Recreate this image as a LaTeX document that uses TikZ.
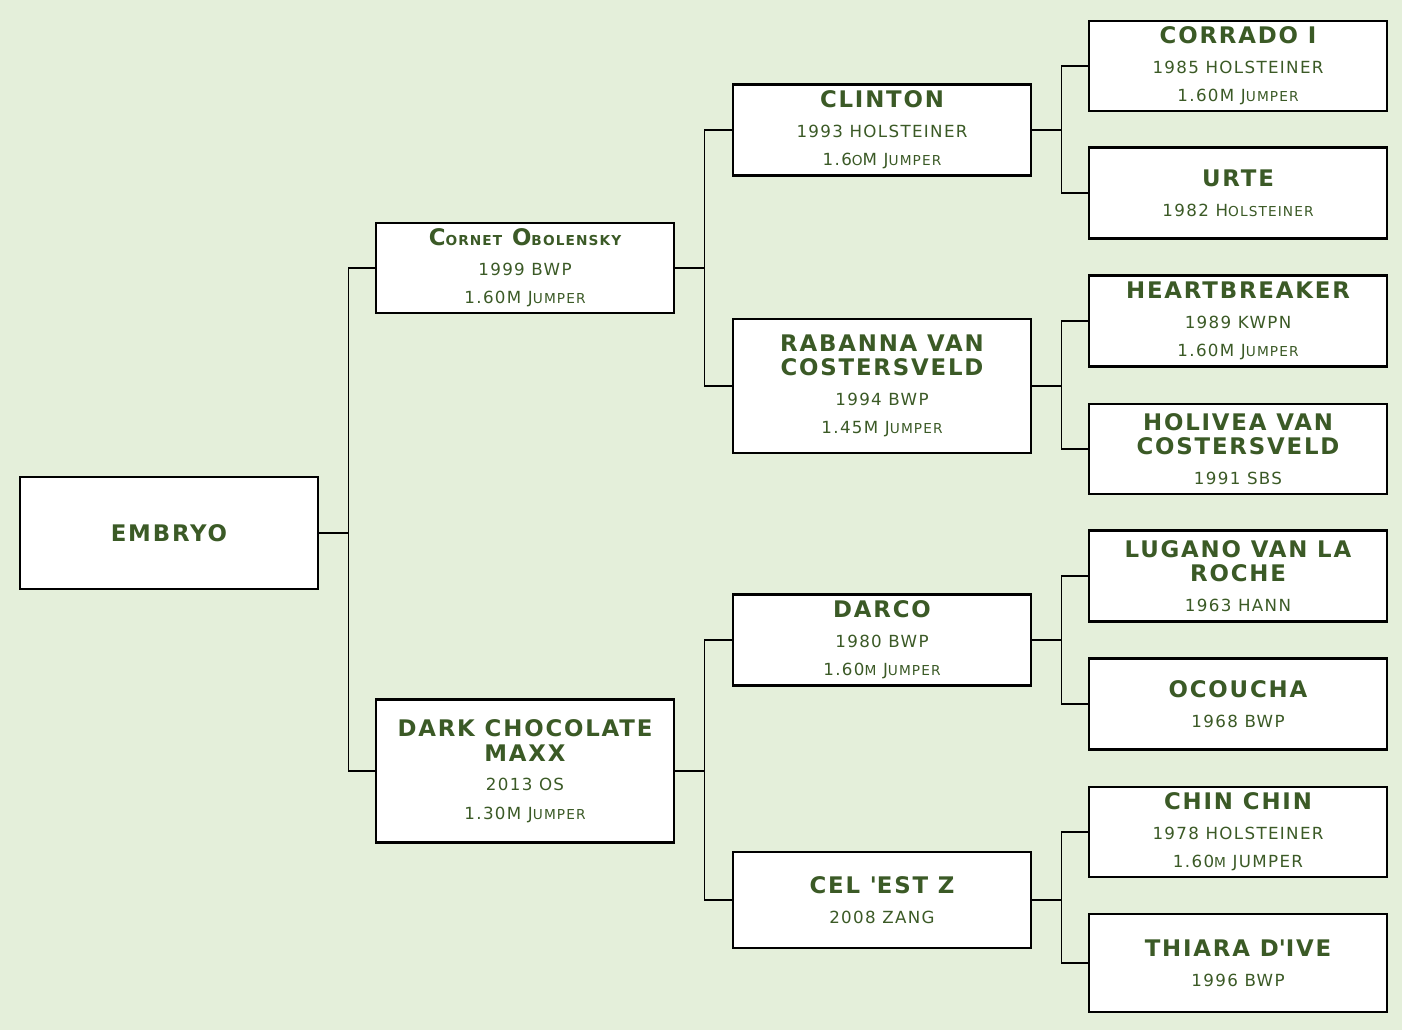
\documentclass[tikz,border=0pt]{standalone}
\usepackage{fontspec}
\setmainfont{DejaVu Sans}[LetterSpace=8]
\usepackage{tikz}
\definecolor{bgreen}{HTML}{E4EFDA}
\definecolor{hgreen}{HTML}{3B5A26}
\newcommand{\hname}[1]{{\fontsize{13}{14}\selectfont\bfseries #1}}
\newcommand{\hsub}[1]{{\fontsize{9.5}{14}\selectfont #1}}
\newcommand{\smc}[1]{{\fontsize{7.8}{14}\selectfont #1}}
\tikzset{horse/.style={draw=black,line width=1.4pt,fill=white,minimum width=5.96cm,
	text=hgreen,align=center,inner sep=0pt,font=\fontsize{9.5}{14}\selectfont},
	link/.style={line width=0.8pt}}
\begin{document}
\begin{tikzpicture}[x=0.02cm,y=-0.02cm]
\fill[bgreen] (0,0) rectangle (1402,1030); %
\node[horse,minimum height=2.24cm] (embryo) at (169,533) {\hname{EMBRYO}};
\node[horse,minimum height=1.8cm] (cornet) at (525,268) {\hname{C\smc{ORNET} O\smc{BOLENSKY}}\\[3pt]\hsub{1999 BWP}\\[2pt]\hsub{1.60M J\smc{UMPER}}};
\node[horse,minimum height=2.86cm] (dark) at (525,771) {\hname{DARK CHOCOLATE}\\\hname{MAXX}\\[3pt]\hsub{2013 OS}\\[2pt]\hsub{1.30M J\smc{UMPER}}};
\node[horse,minimum height=1.82cm] (clinton) at (882,130) {\hname{CLINTON}\\[3pt]\hsub{1993 HOLSTEINER}\\[2pt]\hsub{1.6\smc{O}M J\smc{UMPER}}};
\node[horse,minimum height=2.68cm] (rabanna) at (882,386) {\hname{RABANNA VAN}\\\hname{COSTERSVELD}\\[3pt]\hsub{1994 BWP}\\[2pt]\hsub{1.45M J\smc{UMPER}}};
\node[horse,minimum height=1.82cm] (darco) at (882,640) {\hname{DARCO}\\[3pt]\hsub{1980 BWP}\\[2pt]\hsub{1.60\smc{M} J\smc{UMPER}}};
\node[horse,minimum height=1.92cm] (celest) at (882,900) {\hname{CEL \textquotesingle EST Z}\\[3pt]\hsub{2008 ZANG}};
\node[horse,minimum height=1.8cm] (corrado) at (1238,66) {\hname{CORRADO I}\\[3pt]\hsub{1985 HOLSTEINER}\\[2pt]\hsub{1.60M J\smc{UMPER}}};
\node[horse,minimum height=1.82cm] (urte) at (1238,193) {\hname{URTE}\\[3pt]\hsub{1982 H\smc{OLSTEINER}}};
\node[horse,minimum height=1.82cm] (heart) at (1238,321) {\hname{HEARTBREAKER}\\[3pt]\hsub{1989 KWPN}\\[2pt]\hsub{1.60M J\smc{UMPER}}};
\node[horse,minimum height=1.8cm] (holivea) at (1238,449) {\hname{HOLIVEA VAN}\\\hname{COSTERSVELD}\\[3pt]\hsub{1991 SBS}};
\node[horse,minimum height=1.82cm] (lugano) at (1238,576) {\hname{LUGANO VAN LA}\\\hname{ROCHE}\\[3pt]\hsub{1963 HANN}};
\node[horse,minimum height=1.82cm] (ocoucha) at (1238,704) {\hname{OCOUCHA}\\[3pt]\hsub{1968 BWP}};
\node[horse,minimum height=1.8cm] (chin) at (1238,832) {\hname{CHIN CHIN}\\[3pt]\hsub{1978 HOLSTEINER}\\[2pt]\hsub{1.60\smc{M} JUMPER}};
\node[horse,minimum height=1.96cm] (thiara) at (1238,963) {\hname{THIARA D\textquotesingle IVE}\\[3pt]\hsub{1996 BWP}};
% connectors
\foreach \p/\a/\b in {embryo/cornet/dark,cornet/clinton/rabanna,dark/darco/celest,
	clinton/corrado/urte,rabanna/heart/holivea,darco/lugano/ocoucha,celest/chin/thiara}
{
	\draw[link] (\p.east) -- ++(29,0) coordinate (m);
	\draw[link] (m) |- (\a.west);
	\draw[link] (m) |- (\b.west);
}
\end{tikzpicture}
\end{document}
